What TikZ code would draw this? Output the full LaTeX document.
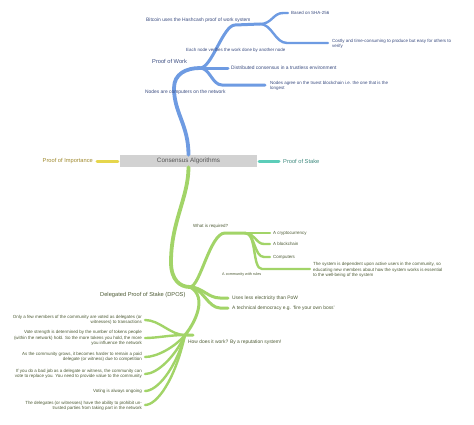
\documentclass[tikz,border=0pt]{standalone}
\usepackage{fontspec}
\setmainfont{Liberation Sans}
\definecolor{cblue}{HTML}{6E9BE2}
\definecolor{cgreen}{HTML}{A2D468}
\definecolor{cyel}{HTML}{E6D64C}
\definecolor{cteal}{HTML}{5CCDB9}
\definecolor{cbox}{HTML}{D2D2D2}
\definecolor{tblue}{HTML}{3A4C80}
\definecolor{tgreen}{HTML}{4E5C36}
\definecolor{tyel}{HTML}{A08A2E}
\definecolor{tteal}{HTML}{3E8A7E}
\definecolor{tgray}{HTML}{555555}
\newcommand\mfA{\fontsize{6.3}{7.5}\selectfont}
\newcommand\mfB{\fontsize{5.7}{6.8}\selectfont}
\newcommand\mfC{\fontsize{4.9}{5.9}\selectfont}
\newcommand\mfD{\fontsize{4.45}{5.45}\selectfont}
\newcommand\mfE{\fontsize{3.8}{4.8}\selectfont}
\begin{document}
\begin{tikzpicture}[x=1pt,y=-1pt,line cap=round,line join=round,
  tw/.style={inner sep=0pt,anchor=west,align=left},
  te/.style={inner sep=0pt,anchor=east,align=right},
  btrunk/.style={draw=cblue,line width=3.8pt},
  bbr/.style={draw=cblue,line width=3.0pt},
  bleaf/.style={draw=cblue,line width=2.4pt},
  gtrunk/.style={draw=cgreen,line width=3.8pt},
  gbr/.style={draw=cgreen,line width=3.0pt},
  gleaf/.style={draw=cgreen,line width=2.4pt},
  btxt/.style={text=tblue},
  gtxt/.style={text=tgreen}]
\useasboundingbox[fill=white] (0,0) rectangle (474,424);

% centre
\node[fill=cbox,minimum width=137pt,minimum height=12pt,inner sep=0pt,text=tgray,font=\mfA] (ca) at (188.5,161) {Consensus Algorithms};
\node[te,text=tyel,font=\mfB] (poi) at (93,161) {Proof of Importance};
\node[tw,text=tteal,font=\mfB] (pos) at (283,161) {Proof of Stake};
\draw[cyel,line width=3pt] ([xshift=-2pt]ca.west) -- ([xshift=4pt]poi.east);
\draw[cteal,line width=3pt] ([xshift=2pt]ca.east) -- ([xshift=-4pt]pos.west);

% ---------------- Proof of Work (blue)
\coordinate (powhub) at (200,68);
\coordinate (pwbend) at (174,88);
\coordinate (bitb) at (235,25);
\coordinate (bitj) at (260,24);
\coordinate (shaE) at (283,13);
\coordinate (shaT) at (288,13);
\coordinate (cosE) at (287,43);
\coordinate (cosT) at (328,43);
\coordinate (disT) at (228,68);
\coordinate (nagE) at (222,85);
\coordinate (nagT) at (265,85);

\draw[btrunk] (ca.north) .. controls +(0,-30) and +(0,25) .. (pwbend)
  .. controls +(0,-14) and +(-14,0) .. (powhub);
\draw[bbr] (powhub) .. controls +(12,0) and +(-12,0) .. (bitb) -- (bitj);
\draw[bleaf] (bitj) .. controls +(12,0) and +(-10,0) .. (shaE) -- (shaT);
\draw[bleaf] (bitj) .. controls +(12,0) and +(-12,0) .. (cosE) -- (cosT);
\draw[bbr] (powhub) -- (disT);
\draw[bbr] (powhub) .. controls +(10,0) and +(-10,0) .. (nagE) -- (nagT);

\node[tw,btxt,font=\mfB] (pow) at (152,61) {Proof of Work};
\node[tw,btxt,font=\mfC] (bit) at (146,20) {Bitcoin uses the Hashcash proof of work system};
\node[tw,btxt,font=\mfD] (sha) at (291,13) {Based on SHA-256};
\node[tw,btxt,font=\mfD] (cos) at (332,44) {Costly and time-consuming to produce but easy for others to\\verify};
\node[tw,btxt,font=\mfD] (ver) at (186,50) {Each node verifies the work done by another node};
\node[tw,btxt,font=\mfC] (dis) at (231,68) {Distributed consensus in a trustless environment};
\node[tw,btxt,font=\mfD] (nag) at (270,86) {Nodes agree on the truest blockchain i.e. the one that is the\\longest};
\node[tw,btxt,font=\mfC] (nco) at (145,92) {Nodes are computers on the network};

% ---------------- DPOS (green)
\coordinate (dposhub) at (190,287);
\coordinate (gbend) at (171,262);
\coordinate (wirB) at (225,233);
\coordinate (wirJ) at (245,233);
\coordinate (cryT) at (270,233);
\coordinate (bloE) at (264,244);
\coordinate (bloT) at (270,244);
\coordinate (comE) at (264,257);
\coordinate (comT) at (270,257);
\coordinate (sysE) at (262,269);
\coordinate (sysT) at (310,269);
\coordinate (uleE) at (220,298);
\coordinate (uleT) at (228,298);
\coordinate (tecE) at (220,308);
\coordinate (tecT) at (228,308);
\coordinate (howhub) at (185,335);
\coordinate (howT) at (193,335);
\coordinate (l1E) at (145,320);
\coordinate (l2E) at (145,338);
\coordinate (l3E) at (145,357);
\coordinate (l4E) at (145,374);
\coordinate (l5E) at (145,391);
\coordinate (l6E) at (145,405);

\draw[gtrunk] (ca.south) .. controls +(0,30) and +(0,-40) .. (gbend)
  .. controls +(0,18) and +(-10,0) .. (dposhub);
\draw[gbr] (dposhub) .. controls +(10,0) and +(-15,0) .. (wirB) -- (wirJ);
\draw[gleaf] (wirJ) -- (cryT);
\draw[gleaf] (wirJ) .. controls +(10,0) and +(-8,0) .. (bloE) -- (bloT);
\draw[gleaf] (wirJ) .. controls +(10,0) and +(-10,0) .. (comE) -- (comT);
\draw[gleaf] (wirJ) .. controls +(12,0) and +(-10,0) .. (sysE) -- (sysT);
\draw[gbr] (dposhub) .. controls +(12,0) and +(-12,0) .. (uleE) -- (uleT);
\draw[gbr] (dposhub) .. controls +(12,0) and +(-12,0) .. (tecE) -- (tecT);
\draw[gbr] (dposhub) .. controls +(18,10) and +(10,-12) .. (howhub) -- (howT);
\draw[gleaf] (howhub) .. controls +(-15,0) and +(15,0) .. (l1E);
\draw[gleaf] (howhub) .. controls +(-15,0) and +(12,0) .. (l2E);
\draw[gleaf] (howhub) .. controls +(-10,12) and +(12,0) .. (l3E);
\draw[gleaf] (howhub) .. controls +(-10,22) and +(12,0) .. (l4E);
\draw[gleaf] (howhub) .. controls +(-10,35) and +(12,0) .. (l5E);
\draw[gleaf] (howhub) .. controls +(-10,45) and +(12,0) .. (l6E);

\node[tw,gtxt,font=\mfB] (dpos) at (100,295) {Delegated Proof of Stake (DPOS)};
\node[tw,gtxt,font=\mfD] (wir) at (193,226) {What is required?};
\node[tw,gtxt,font=\mfD] (cry) at (273,233) {A cryptocurrency};
\node[tw,gtxt,font=\mfD] (blo) at (273,244) {A blockchain};
\node[tw,gtxt,font=\mfD] (com) at (273,257) {Computers};
\node[tw,gtxt,font=\mfD] (sys) at (313,270) {The system is dependent upon active users in the community, so\\educating new members about how the system works is essential\\to the well-being of the system};
\node[tw,gtxt,font=\mfE] (cwr) at (222,275) {A community with rules};
\node[tw,gtxt,font=\mfC] (ule) at (232,298) {Uses less electricity than PoW};
\node[tw,gtxt,font=\mfC] (tec) at (232,308) {A technical democracy e.g. `fire your own boss'};
\node[tw,gtxt,font=\mfC] (how) at (188,342) {How does it work? By a reputation system!};
\node[te,gtxt,font=\mfD] (l1) at (142,320) {Only a few members of the community are voted as delegates (or\\witnesses) to transactions};
\node[te,gtxt,font=\mfD] (l2) at (142,338) {Vote strength is determined by the number of tokens people\\(within the network) hold. So the more tokens you hold, the more\\you influence the network};
\node[te,gtxt,font=\mfD] (l3) at (142,357) {As the community grows, it becomes harder to remain a paid\\delegate (or witness) due to competition};
\node[te,gtxt,font=\mfD] (l4) at (142,374) {If you do a bad job as a delegate or witness, the community can\\vote to replace you. You need to provide value to the community};
\node[te,gtxt,font=\mfD] (l5) at (142,391) {Voting is always ongoing};
\node[te,gtxt,font=\mfD] (l6) at (142,406) {The delegates (or witnesses) have the ability to prohibit un-\\trusted parties from taking part in the network};
\end{tikzpicture}
\end{document}
